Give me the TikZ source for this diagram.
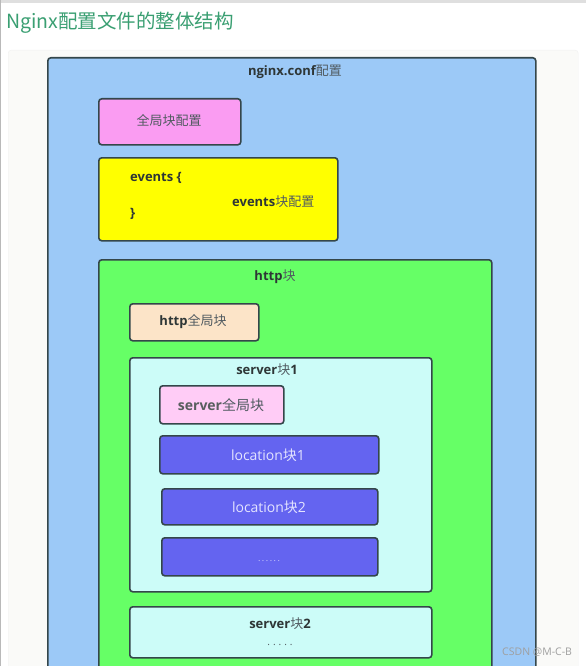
\documentclass[tikz,border=0pt]{standalone}
\usepackage{fontspec}
\setmainfont{Open Sans}
\newfontfamily\zhfont{Noto Sans CJK SC}
\newcommand{\zh}[1]{{\zhfont\mdseries\color{zhtxt}#1}}
\definecolor{titlegreen}{HTML}{3A9F72}
\definecolor{panelc}{HTML}{FAFAF8}
\definecolor{boxline}{HTML}{34464A}
\definecolor{txt}{HTML}{2E3636}
\definecolor{zhtxt}{HTML}{505A60}
\definecolor{blueb}{HTML}{9CC9F7}
\definecolor{pinkb}{HTML}{FA9CF2}
\definecolor{yellowb}{HTML}{FFFF00}
\definecolor{greenb}{HTML}{66FF66}
\definecolor{peachb}{HTML}{FCE4C8}
\definecolor{cyanb}{HTML}{CCFCF8}
\definecolor{lpinkb}{HTML}{FFCCF6}
\definecolor{locb}{HTML}{6464F0}
\definecolor{loctxt}{HTML}{E4E4FF}
\begin{document}
\begin{tikzpicture}[x=1pt,y=-1pt,
  blk/.style={draw=boxline, line width=1.6pt, rounded corners=3pt, anchor=north west, inner sep=0pt},
  lbl/.style={font=\fontsize{13}{15}\selectfont\bfseries, text=txt, inner sep=0pt},
  loclbl/.style={font=\fontsize{14}{16}\selectfont, text=loctxt, inner sep=0pt}]
\useasboundingbox (0,0) rectangle (586,666);
\clip (0,0) rectangle (586,666);
\fill[white] (0,0) rectangle (586,666);
\fill[gray!25] (0,0) rectangle (586,3);
\draw[gray!55, line width=1pt] (0.5,0) -- (0.5,666);
\node[anchor=west, inner sep=0pt, text=titlegreen, font=\zhfont\fontsize{19.5}{22}\selectfont] (title) at (6,23) {Nginx配置文件的整体结构};
\node[draw=gray!12, fill=panelc, rounded corners=3pt, minimum width=570pt, minimum height=640pt, anchor=north west, inner sep=0pt] (panel) at (8,50) {};
% outer blue
\node[blk, fill=blueb, minimum width=488pt, minimum height=640pt] (conf) at (47,57) {};
\node[lbl] (conft) at (295,72) {nginx.conf\zh{配置}};
% global
\node[blk, fill=pinkb, minimum width=142pt, minimum height=46pt] (glob) at (98,98) {};
\node[lbl] (globt) at (169,121) {\zh{全局块配置}};
% events
\node[blk, fill=yellowb, minimum width=239pt, minimum height=83pt] (ev) at (98,157) {};
\node[lbl, anchor=west] (ev1) at (130,178) {events \{};
\node[lbl, anchor=west] (ev2) at (232,202) {events\zh{块配置}};
\node[lbl, anchor=west] (ev3) at (130,214) {\}};
% http
\node[blk, fill=greenb, minimum width=393pt, minimum height=440pt] (http) at (98,259) {};
\node[lbl] (httpt) at (275,277) {http\zh{块}};
\node[blk, fill=peachb, minimum width=129pt, minimum height=37pt] (hglob) at (129,303) {};
\node[lbl] (hglobt) at (193,322) {http\zh{全局块}};
% server1
\node[blk, fill=cyanb, minimum width=302pt, minimum height=234pt] (s1) at (129,357) {};
\node[lbl] (s1t) at (267,370) {server\zh{块}1};
\node[blk, fill=lpinkb, minimum width=124pt, minimum height=38pt] (sglob) at (159,385) {};
\node[lbl, font=\fontsize{14}{16}\selectfont\bfseries, text=txt!80] (sglobt) at (221,405) {server\zh{全局块}};
\node[blk, fill=locb, minimum width=219pt, minimum height=38pt] (loc1) at (159,435) {};
\node[loclbl] (loc1t) at (268,455) {location{\zhfont 块}1};
\node[blk, fill=locb, minimum width=216pt, minimum height=36pt] (loc2) at (161,488) {};
\node[loclbl] (loc2t) at (269,507) {location{\zhfont 块}2};
\node[blk, fill=locb, minimum width=216pt, minimum height=38pt] (loc3) at (161,537) {};
\node[loclbl, font=\fontsize{9}{10}\selectfont, text=loctxt!80!locb] (loc3t) at (269,561) {.\kern1.5pt.\kern1.5pt.\kern1.5pt.\kern1.5pt.\kern1.5pt.};
% server2
\node[blk, fill=cyanb, minimum width=302pt, minimum height=51pt] (s2) at (129,606) {};
\node[lbl] (s2t) at (280,624) {server\zh{块}2};
\node[lbl, font=\fontsize{10}{11}\selectfont, text=zhtxt] (s2d) at (280,645) {.\kern3pt.\kern3pt.\kern3pt.\kern3pt.};
% watermark
\node[anchor=west, inner sep=0pt, text=gray!75, font=\fontsize{10.5}{12}\selectfont] (wm) at (502,652) {CSDN @M-C-B};
\end{tikzpicture}
\end{document}
